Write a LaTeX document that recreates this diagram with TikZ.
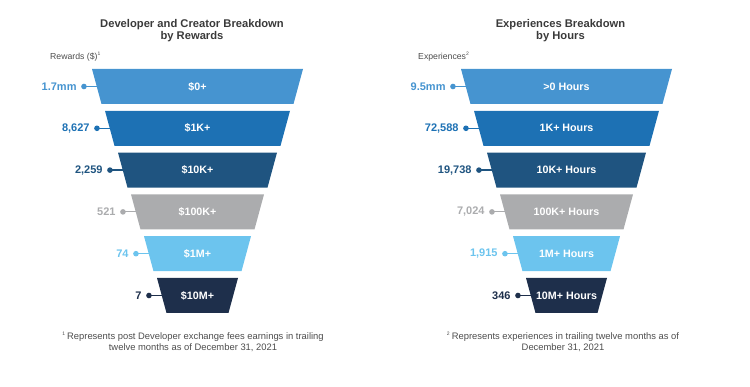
\documentclass[tikz,border=0pt]{standalone}
\usepackage{fontspec}
\setmainfont{Liberation Sans}
\usepackage{xcolor}
\usetikzlibrary{positioning}
\definecolor{bandA}{HTML}{4694D0}
\definecolor{bandB}{HTML}{1D71B4}
\definecolor{bandC}{HTML}{1F5480}
\definecolor{bandD}{HTML}{ABACAE}
\definecolor{bandE}{HTML}{6CC4EE}
\definecolor{bandF}{HTML}{1E2F4B}
\definecolor{ink}{HTML}{3A3A3A}
\definecolor{inkgrey}{HTML}{4D4D4D}

\begin{document}
\begin{tikzpicture}[x=1pt, y=-1pt,
  band/.style={inner sep=0pt, text=white, font=\bfseries\fontsize{10.7}{12}\selectfont},
  bullet/.style={circle, inner sep=0pt, minimum size=5.6pt},
  num/.style={inner sep=0pt, font=\bfseries\fontsize{11}{12}\selectfont},
  ttl/.style={align=center, text=ink, font=\bfseries\fontsize{11.2}{12.5}\selectfont},
  sub/.style={anchor=west, inner sep=0pt, text=inkgrey, font=\fontsize{8.7}{10}\selectfont},
  note/.style={align=center, text=inkgrey, font=\fontsize{9.4}{10.6}\selectfont}
]
\useasboundingbox (0,0) rectangle (750,387);

% left funnel: rewards
\node[ttl] (tl) at (192,30.5) {Developer and Creator Breakdown\\by Rewards};
\node[sub] (sl) at (50,57) {Rewards (\$)\textsuperscript{\tiny 1}};
\foreach \i/\c/\t/\v in {0/bandA/{\$0+}/1.7mm, 1/bandB/{\$1K+}/{8,627}, 2/bandC/{\$10K+}/{2,259},
    3/bandD/{\$100K+}/521, 4/bandE/{\$1M+}/74, 5/bandF/{\$10M+}/7} {
  \pgfmathsetmacro\hw{105.5-13*\i}
  \pgfmathsetmacro\yt{69+41.8*\i}
  \fill[\c] ({197.5-\hw},\yt) -- ({197.5+\hw},\yt) -- ({197.5+\hw-9.5},\yt+35) -- ({197.5-\hw+9.5},\yt+35) -- cycle;
  \node[band] (L\i) at (197.5,\yt+17.5) {\t};
  \coordinate (Le\i) at ({197.5-\hw+4.75},\yt+17.5);
  \node[bullet, fill=\c, left=9.8pt of Le\i] (Ld\i) {};
  \node[num, text=\c, left=4.2pt of Ld\i] (Lv\i) {\v};
  \draw[\c, line width=1.2pt] (Ld\i.center) -- (Le\i);
}
\node[note] (nl) at (193,342) {\textsuperscript{\tiny 1}\,Represents post Developer exchange fees earnings in trailing\\twelve months as of December 31, 2021};

% right funnel: hours
\node[ttl] (tr) at (560.5,30.5) {Experiences Breakdown\\by Hours};
\node[sub] (sr) at (418,57) {Experiences\textsuperscript{\tiny 2}};
\foreach \i/\c/\t/\v in {0/bandA/{>0 Hours}/9.5mm, 1/bandB/{1K+ Hours}/{72,588}, 2/bandC/{10K+ Hours}/{19,738},
    3/bandD/{100K+ Hours}/{7,024}, 4/bandE/{1M+ Hours}/{1,915}, 5/bandF/{10M+ Hours}/346} {
  \pgfmathsetmacro\hw{105.5-13*\i}
  \pgfmathsetmacro\yt{69+41.8*\i}
  \fill[\c] ({566.5-\hw},\yt) -- ({566.5+\hw},\yt) -- ({566.5+\hw-9.5},\yt+35) -- ({566.5-\hw+9.5},\yt+35) -- cycle;
  \node[band] (R\i) at (566.5,\yt+17.5) {\t};
  \coordinate (Re\i) at ({566.5-\hw+4.75},\yt+17.5);
  \node[bullet, fill=\c, left=9.8pt of Re\i] (Rd\i) {};
  \node[num, text=\c, left=4.2pt of Rd\i] (Rv\i) {\v};
  \draw[\c, line width=1.2pt] (Rd\i.center) -- (Re\i);
}
\node[note] (nr) at (563,342) {\textsuperscript{\tiny 2}\,Represents experiences in trailing twelve months as of\\December 31, 2021};
\end{tikzpicture}
\end{document}
